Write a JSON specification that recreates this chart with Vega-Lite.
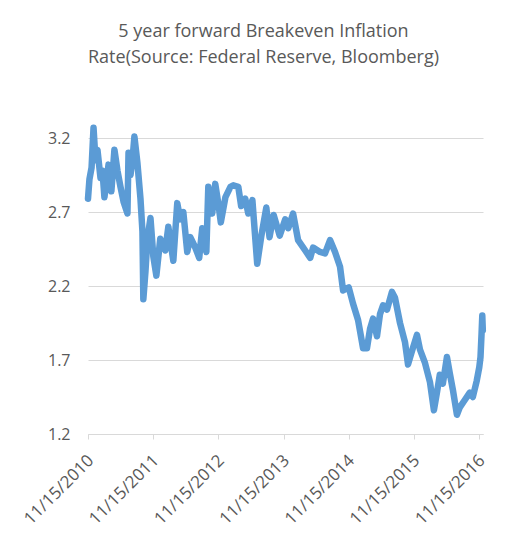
{
  "$schema": "https://vega.github.io/schema/vega-lite/v6.json",
  "autosize": "none",
  "width": 395,
  "height": 296,
  "padding": {"left": 88, "top": 138, "right": 44, "bottom": 107},
  "background": "white",
  "title": {
    "text": ["5 year forward Breakeven  Inflation", "Rate(Source: Federal Reserve, Bloomberg)"],
    "anchor": "middle",
    "frame": "group",
    "dx": -22,
    "offset": 57,
    "font": "Open Sans",
    "fontSize": 18,
    "fontWeight": "normal",
    "color": "#595959",
    "lineHeight": 26
  },
  "config": {
    "view": {"stroke": null},
    "axis": {"labelFont": "Open Sans", "labelFontSize": 16, "labelColor": "#595959", "gridColor": "#D9D9D9", "domainColor": "#D9D9D9", "tickColor": "#D9D9D9"}
  },
  "data": {"values": [
    {"date": "2010-11-15", "rate": 2.79},
    {"date": "2010-11-23", "rate": 2.92},
    {"date": "2010-12-05", "rate": 3.00},
    {"date": "2010-12-16", "rate": 3.27},
    {"date": "2010-12-27", "rate": 3.05},
    {"date": "2011-01-07", "rate": 3.12},
    {"date": "2011-01-24", "rate": 2.93},
    {"date": "2011-02-04", "rate": 2.98},
    {"date": "2011-02-15", "rate": 2.80},
    {"date": "2011-02-26", "rate": 2.90},
    {"date": "2011-03-10", "rate": 3.02},
    {"date": "2011-03-26", "rate": 2.84},
    {"date": "2011-04-12", "rate": 3.12},
    {"date": "2011-04-29", "rate": 2.98},
    {"date": "2011-05-16", "rate": 2.87},
    {"date": "2011-06-02", "rate": 2.77},
    {"date": "2011-06-24", "rate": 2.69},
    {"date": "2011-06-30", "rate": 3.10},
    {"date": "2011-07-11", "rate": 2.95},
    {"date": "2011-07-22", "rate": 3.05},
    {"date": "2011-08-02", "rate": 3.21},
    {"date": "2011-08-19", "rate": 3.03},
    {"date": "2011-09-05", "rate": 2.79},
    {"date": "2011-09-16", "rate": 2.57},
    {"date": "2011-09-21", "rate": 2.11},
    {"date": "2011-10-03", "rate": 2.30},
    {"date": "2011-10-14", "rate": 2.52},
    {"date": "2011-10-31", "rate": 2.66},
    {"date": "2011-11-16", "rate": 2.40},
    {"date": "2011-12-03", "rate": 2.27},
    {"date": "2011-12-25", "rate": 2.52},
    {"date": "2012-01-22", "rate": 2.44},
    {"date": "2012-02-08", "rate": 2.60},
    {"date": "2012-03-07", "rate": 2.37},
    {"date": "2012-03-29", "rate": 2.76},
    {"date": "2012-04-15", "rate": 2.65},
    {"date": "2012-05-02", "rate": 2.70},
    {"date": "2012-05-24", "rate": 2.43},
    {"date": "2012-06-10", "rate": 2.53},
    {"date": "2012-07-08", "rate": 2.46},
    {"date": "2012-07-30", "rate": 2.39},
    {"date": "2012-08-16", "rate": 2.59},
    {"date": "2012-09-08", "rate": 2.43},
    {"date": "2012-09-19", "rate": 2.87},
    {"date": "2012-10-11", "rate": 2.69},
    {"date": "2012-10-28", "rate": 2.89},
    {"date": "2012-11-15", "rate": 2.75},
    {"date": "2012-11-28", "rate": 2.63},
    {"date": "2012-12-24", "rate": 2.80},
    {"date": "2013-01-21", "rate": 2.87},
    {"date": "2013-02-06", "rate": 2.88},
    {"date": "2013-03-06", "rate": 2.87},
    {"date": "2013-03-22", "rate": 2.74},
    {"date": "2013-04-14", "rate": 2.79},
    {"date": "2013-05-01", "rate": 2.69},
    {"date": "2013-05-24", "rate": 2.78},
    {"date": "2013-06-20", "rate": 2.35},
    {"date": "2013-07-12", "rate": 2.53},
    {"date": "2013-08-10", "rate": 2.73},
    {"date": "2013-08-28", "rate": 2.53},
    {"date": "2013-09-20", "rate": 2.68},
    {"date": "2013-10-24", "rate": 2.54},
    {"date": "2013-11-24", "rate": 2.65},
    {"date": "2013-12-11", "rate": 2.59},
    {"date": "2014-01-07", "rate": 2.69},
    {"date": "2014-02-04", "rate": 2.51},
    {"date": "2014-03-16", "rate": 2.44},
    {"date": "2014-04-13", "rate": 2.39},
    {"date": "2014-04-29", "rate": 2.46},
    {"date": "2014-06-07", "rate": 2.43},
    {"date": "2014-07-05", "rate": 2.42},
    {"date": "2014-08-02", "rate": 2.51},
    {"date": "2014-08-30", "rate": 2.43},
    {"date": "2014-09-27", "rate": 2.33},
    {"date": "2014-10-14", "rate": 2.17},
    {"date": "2014-11-15", "rate": 2.19},
    {"date": "2014-12-09", "rate": 2.08},
    {"date": "2015-01-06", "rate": 1.97},
    {"date": "2015-02-03", "rate": 1.78},
    {"date": "2015-02-25", "rate": 1.78},
    {"date": "2015-03-14", "rate": 1.91},
    {"date": "2015-03-31", "rate": 1.98},
    {"date": "2015-04-22", "rate": 1.86},
    {"date": "2015-05-09", "rate": 2.01},
    {"date": "2015-05-26", "rate": 2.07},
    {"date": "2015-06-17", "rate": 2.04},
    {"date": "2015-07-15", "rate": 2.16},
    {"date": "2015-08-01", "rate": 2.12},
    {"date": "2015-08-29", "rate": 1.95},
    {"date": "2015-09-26", "rate": 1.82},
    {"date": "2015-10-13", "rate": 1.67},
    {"date": "2015-11-04", "rate": 1.76},
    {"date": "2015-12-02", "rate": 1.87},
    {"date": "2015-12-19", "rate": 1.77},
    {"date": "2016-01-16", "rate": 1.68},
    {"date": "2016-02-13", "rate": 1.55},
    {"date": "2016-03-06", "rate": 1.36},
    {"date": "2016-03-23", "rate": 1.48},
    {"date": "2016-04-08", "rate": 1.60},
    {"date": "2016-04-25", "rate": 1.54},
    {"date": "2016-05-18", "rate": 1.72},
    {"date": "2016-06-03", "rate": 1.61},
    {"date": "2016-06-20", "rate": 1.50},
    {"date": "2016-07-13", "rate": 1.33},
    {"date": "2016-07-29", "rate": 1.38},
    {"date": "2016-08-26", "rate": 1.43},
    {"date": "2016-09-23", "rate": 1.48},
    {"date": "2016-10-10", "rate": 1.45},
    {"date": "2016-11-01", "rate": 1.56},
    {"date": "2016-11-15", "rate": 1.65},
    {"date": "2016-11-22", "rate": 1.72},
    {"date": "2016-11-28", "rate": 1.88},
    {"date": "2016-12-02", "rate": 2.00},
    {"date": "2016-12-05", "rate": 1.90}
  ]},
  "mark": {"type": "line", "color": "#5B9BD5", "strokeWidth": 6.5, "strokeJoin": "round", "strokeCap": "round"},
  "encoding": {
    "x": {
      "field": "date", "type": "temporal",
      "scale": {"domain": [{"year": 2010, "month": 11, "date": 15}, {"year": 2016, "month": 12, "date": 6}]},
      "axis": {
        "title": null, "grid": false, "labelAngle": -45, "format": "%m/%d/%Y", "tickSize": 5, "labelPadding": 13,
        "labelOffset": -3,
        "labelFontSize": 17, "labelOverlap": false, "labelBound": false,
        "values": [
          {"year": 2010, "month": 11, "date": 15},
          {"year": 2011, "month": 11, "date": 15},
          {"year": 2012, "month": 11, "date": 15},
          {"year": 2013, "month": 11, "date": 15},
          {"year": 2014, "month": 11, "date": 15},
          {"year": 2015, "month": 11, "date": 15},
          {"year": 2016, "month": 11, "date": 15}
        ]
      }
    },
    "y": {
      "field": "rate", "type": "quantitative",
      "scale": {"domain": [1.2, 3.2], "nice": false, "zero": false},
      "axis": {"title": null, "values": [1.2, 1.7, 2.2, 2.7, 3.2], "format": ".1f", "domain": false, "ticks": false, "labelPadding": 18}
    }
  }
}
